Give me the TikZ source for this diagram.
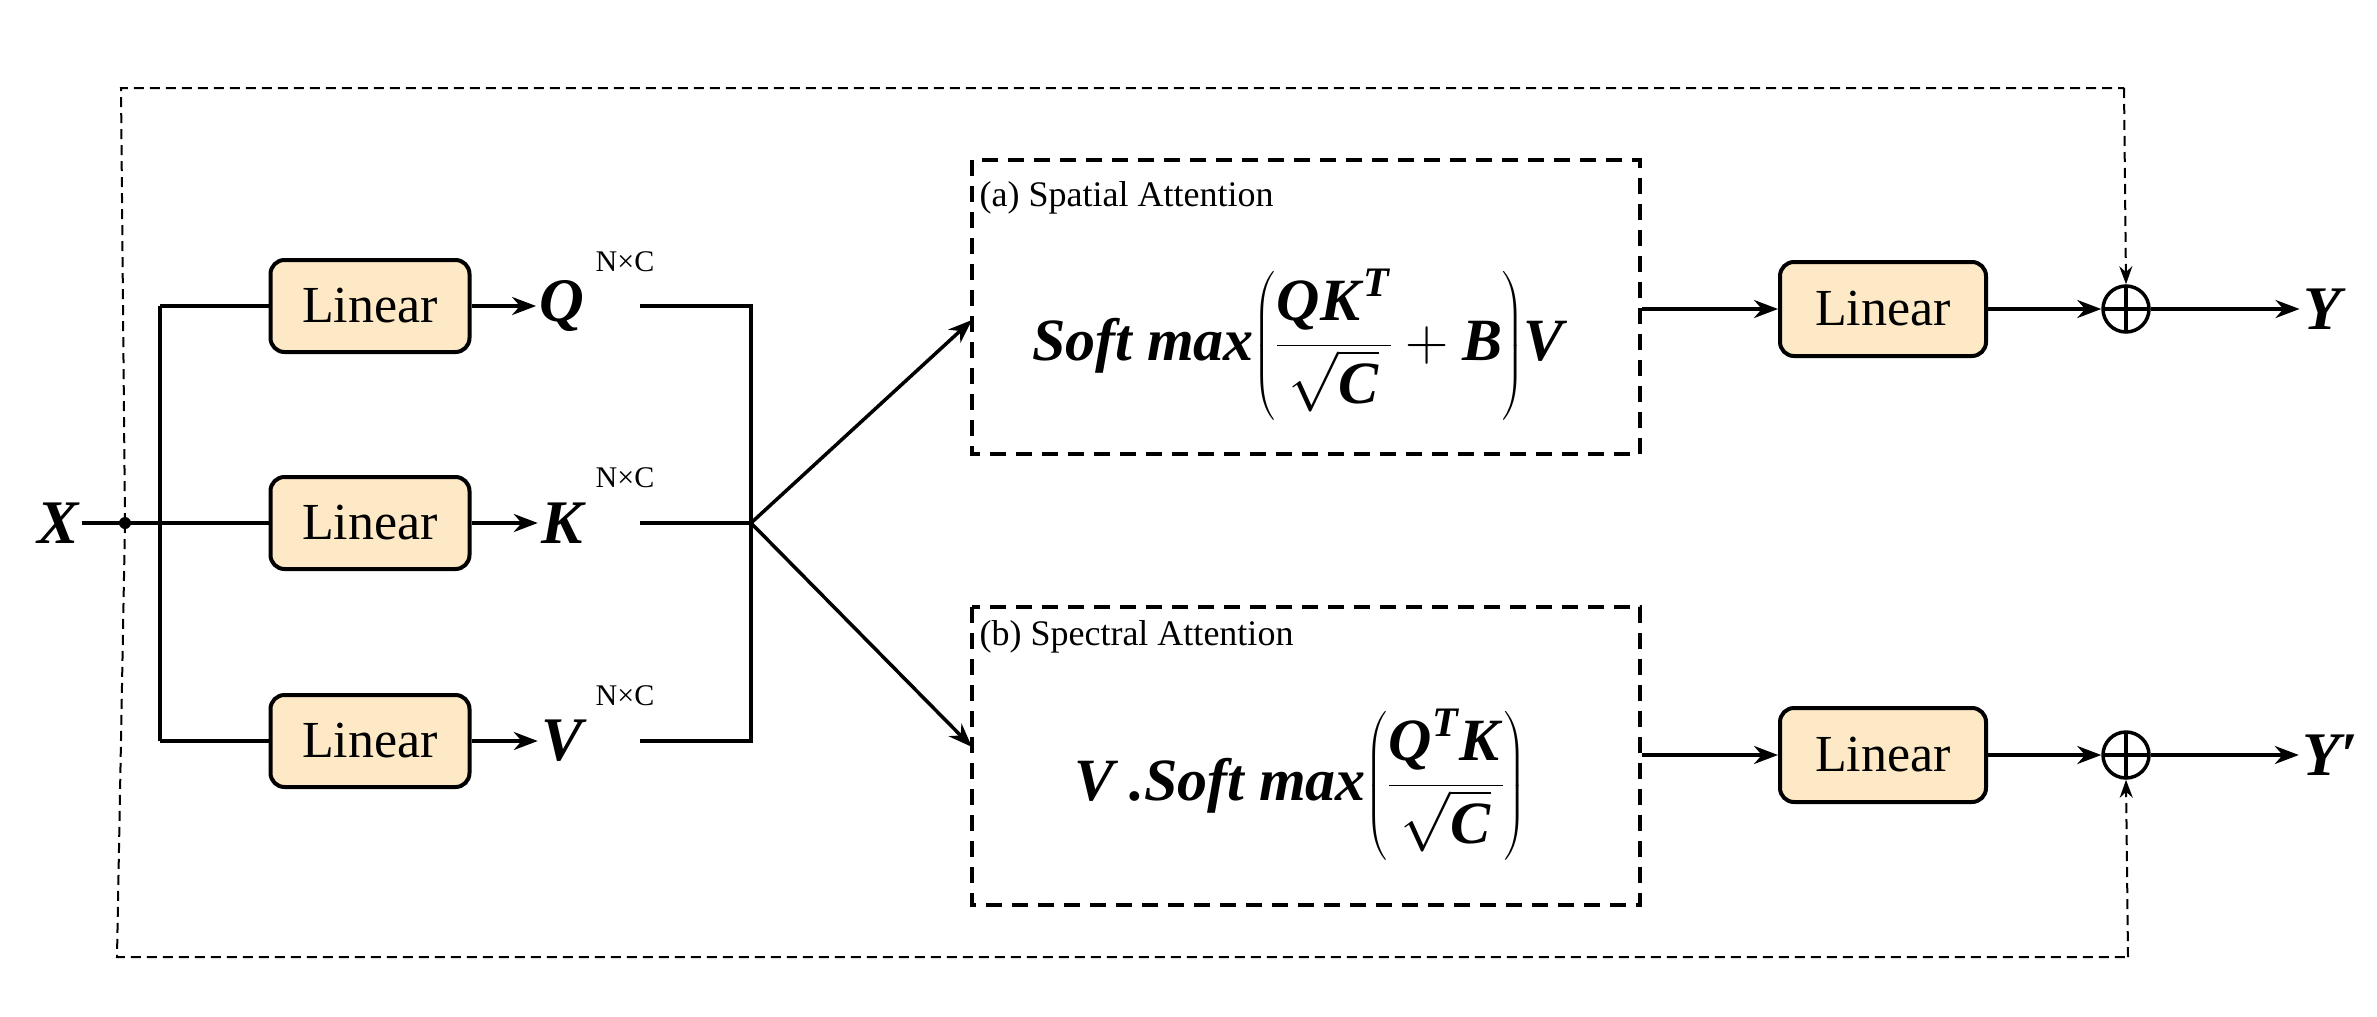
\RequirePackage{fix-cm}
\documentclass[tikz,border=0pt]{standalone}
\usepackage{amsmath}
\usepackage{fontspec}
\setmainfont{Liberation Serif}
\usetikzlibrary{arrows.meta}
\newcommand{\bi}[1]{\textbf{\textit{#1}}}
\begin{document}
\begin{tikzpicture}[x=1pt,y=-1pt,
  lin/.style={draw,line width=4pt,rounded corners=14pt,fill=yellow!20!orange!20,minimum width=199pt,minimum height=92pt,font=\fontsize{52}{58}\selectfont},
  var/.style={font=\fontsize{62}{66}\selectfont\bfseries\itshape},
  sup/.style={font=\fontsize{30}{32}\selectfont},
  att/.style={draw,line width=4.5pt,dash pattern=on 16pt off 10pt},
  ln/.style={line width=3.5pt},
  arr/.style={ln,-{Stealth[length=24pt,width=18pt]}},
  fb/.style={line width=2pt,dash pattern=on 10pt off 6pt},
  ttl/.style={font=\fontsize{36}{40}\selectfont,anchor=west},
  fml/.style={font=\fontsize{60}{66}\selectfont}]
\useasboundingbox (0,0) rectangle (2377,1017);
% input
\node[var] (X) at (58,523) {X};
\coordinate (J) at (125,523);
\fill (J) circle (6pt);
\coordinate (B1) at (160,306);
\coordinate (B3) at (160,741);
\node[lin] (L1) at (370,306) {Linear};
\node[lin] (L2) at (370,523) {Linear};
\node[lin] (L3) at (370,741) {Linear};
\node[var] (Q) at (562,306) {Q};
\node[var] (K) at (562,523) {K};
\node[var] (V) at (562,741) {V};
\node[sup] at (625,262) {N×C};
\node[sup] at (625,478) {N×C};
\node[sup] at (625,696) {N×C};
\draw[ln] (X.east) -- (L2.west);
\draw[ln] (B1) -- (B3);
\draw[ln] (B1) -- (L1.west);
\draw[ln] (B3) -- (L3.west);
\draw[arr] (L1.east) -- (Q.west);
\draw[arr] (L2.east) -- (K.west);
\draw[arr] (L3.east) -- (V.west);
\coordinate (F) at (751,523);
\draw[ln] (640,306) -| (F);
\draw[ln] (640,741) -| (F);
\draw[ln] (640,523) -- (F);
% attention boxes
\draw[att] (972,160) rectangle (1640,454);
\draw[att] (972,607) rectangle (1640,905);
\coordinate (A) at (972,320);
\coordinate (Bb) at (972,747);
\draw[arr] (F) -- (A);
\draw[arr] (F) -- (Bb);
\node[ttl] (ta) at (976,198) {(a) Spatial Attention};
\node[ttl] (tb) at (976,637) {(b) Spectral Attention};
\node[fml] (fa) at (1300,345) {\bi{Soft max}$\left(\dfrac{\bi{QK}^{\bi{T}}}{\sqrt{\bi{C}}}+\bi{B}\right)$\bi{V}};
\node[fml] (fbm) at (1300,785) {\bi{V .Soft max}$\left(\dfrac{\bi{Q}^{\bi{T}}\bi{K}}{\sqrt{\bi{C}}}\right)$};
% outputs
\node[lin,minimum width=206pt,minimum height=94pt] (R1) at (1883,309) {Linear};
\node[lin,minimum width=206pt,minimum height=94pt] (R2) at (1883,755) {Linear};
\node[circle,draw,line width=3.5pt,minimum size=46pt,inner sep=0pt,path picture={\draw[line width=3.5pt] (path picture bounding box.north) -- (path picture bounding box.south) (path picture bounding box.west) -- (path picture bounding box.east);}] (P1) at (2126,309) {};
\node[circle,draw,line width=3.5pt,minimum size=46pt,inner sep=0pt,path picture={\draw[line width=3.5pt] (path picture bounding box.north) -- (path picture bounding box.south) (path picture bounding box.west) -- (path picture bounding box.east);}] (P2) at (2126,755) {};
\node[var] (Y1) at (2322,309) {Y};
\node[var] (Y2) at (2330,755) {Y′};
\draw[arr] (1642,309) -- (R1.west);
\draw[arr] (1642,755) -- (R2.west);
\draw[arr] (R1.east) -- (P1.west);
\draw[arr] (R2.east) -- (P2.west);
\draw[arr] (P1.east) -- (Y1.west);
\draw[arr] (P2.east) -- (Y2.west);
% feedback
\coordinate (T1) at (121,88);
\coordinate (T2) at (2124,88);
\coordinate (D1) at (117,957);
\coordinate (D2) at (2128,957);
\draw[fb] (J) -- (T1) -- (T2);
\draw[fb,-{Stealth[length=18pt,width=13pt]}] (T2) -- (P1.north);
\draw[fb] (J) -- (D1) -- (D2);
\draw[fb,-{Stealth[length=18pt,width=13pt]}] (D2) -- (P2.south);
\end{tikzpicture}
\end{document}
